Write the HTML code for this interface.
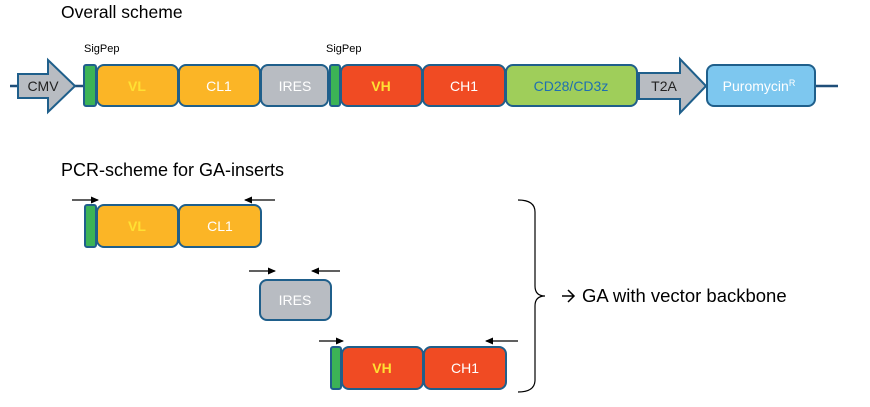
<!DOCTYPE html>
<html><head><style>body{margin:0;background:#fff}svg{display:block}</style></head><body>
<svg width="870" height="407" viewBox="0 0 870 407" xmlns="http://www.w3.org/2000/svg" font-family="Liberation Sans, sans-serif">
<defs><marker id="ah" markerWidth="8" markerHeight="8" refX="7" refY="4" orient="auto" markerUnits="userSpaceOnUse"><path d="M0,0.5 L8,4 L0,7.5z" fill="#000"/></marker></defs>
<text x="61" y="18" font-size="17.5" fill="#000">Overall scheme</text>
<text x="84" y="52" font-size="11">SigPep</text>
<text x="326" y="52" font-size="11">SigPep</text>
<line x1="10" y1="86" x2="838" y2="86" stroke="#1f4e79" stroke-width="2.5"/>
<g stroke="#1f5f8b" stroke-width="2">
<path d="M18,74 H48 V60 L75,86 L48,112 V98 H18z" fill="#b8bcc2"/>
<rect x="84" y="65" width="12" height="41" rx="2" fill="#3cb356"/>
<rect x="97" y="65" width="81" height="41" rx="7" fill="#fbb526"/>
<rect x="179" y="65" width="81" height="41" rx="7" fill="#fbb526"/>
<rect x="261" y="65" width="67" height="41" rx="7" fill="#b8bcc2"/>
<rect x="330" y="65" width="10" height="41" rx="2" fill="#3cb356"/>
<rect x="341" y="65" width="81" height="41" rx="7" fill="#f04b23"/>
<rect x="423" y="65" width="82" height="41" rx="7" fill="#f04b23"/>
<rect x="506" y="65" width="131" height="41" rx="7" fill="#9fce5a"/>
<path d="M639,73 H680 V59 L706,86 L680,113 V99 H639z" fill="#b8bcc2"/>
<rect x="707" y="65" width="108" height="41" rx="7" fill="#7dc7ef"/>
</g>
<g font-size="14" text-anchor="middle">
<text x="43" y="91" fill="#222">CMV</text>
<text x="137" y="91" fill="#ffe033" font-weight="bold">VL</text>
<text x="219" y="91" fill="#fff">CL1</text>
<text x="295" y="91" fill="#fff">IRES</text>
<text x="381" y="91" fill="#ffe033" font-weight="bold">VH</text>
<text x="464" y="91" fill="#fff">CH1</text>
<text x="571" y="91" fill="#1f6fb0">CD28/CD3z</text>
<text x="664" y="91" fill="#222">T2A</text>
<text x="759" y="91" fill="#fff">Puromycin<tspan font-size="9" dy="-5">R</tspan></text>
</g>
<text x="61" y="176" font-size="18" >PCR-scheme for GA-inserts</text>
<g stroke="#1f5f8b" stroke-width="2">
<rect x="85" y="205" width="11" height="42" rx="2" fill="#3cb356"/>
<rect x="97" y="205" width="81" height="42" rx="7" fill="#fbb526"/>
<rect x="179" y="205" width="82" height="42" rx="7" fill="#fbb526"/>
<rect x="260" y="280" width="71" height="40" rx="7" fill="#b8bcc2"/>
<rect x="331" y="347" width="10" height="42" rx="2" fill="#3cb356"/>
<rect x="342" y="347" width="81" height="42" rx="7" fill="#f04b23"/>
<rect x="424" y="347" width="82" height="42" rx="7" fill="#f04b23"/>
</g>
<g font-size="14" text-anchor="middle">
<text x="137" y="231" fill="#ffe033" font-weight="bold">VL</text>
<text x="220" y="231" fill="#fff">CL1</text>
<text x="295" y="305" fill="#fff">IRES</text>
<text x="382" y="373" fill="#ffe033" font-weight="bold">VH</text>
<text x="465" y="373" fill="#fff">CH1</text>
</g>
<g stroke="#000" stroke-width="1.2" marker-end="url(#ah)">
<line x1="72" y1="200" x2="98" y2="200"/>
<line x1="275" y1="200" x2="245" y2="200"/>
<line x1="249" y1="271" x2="275" y2="271"/>
<line x1="340" y1="271" x2="312" y2="271"/>
<line x1="319" y1="341" x2="343" y2="341"/>
<line x1="518" y1="341" x2="486" y2="341"/>
</g>
<path d="M518,200 Q535,200 535,212 V286 Q535,296 545,296 Q535,296 535,306 V380 Q535,392 518,392" fill="none" stroke="#000" stroke-width="1.2"/>
<path d="M562,296 H574 M568,290 L574,296 L568,302" fill="none" stroke="#000" stroke-width="1.5"/>
<text x="582" y="302" font-size="18.5">GA with vector backbone</text>
</svg>
</body></html>
